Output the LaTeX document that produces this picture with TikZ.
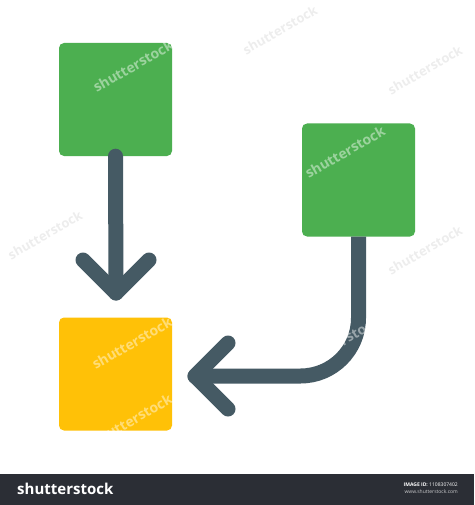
\documentclass[tikz,border=0pt]{standalone}
\usepackage{fontspec}
\setmainfont{Open Sans}
\begin{document}
\begin{tikzpicture}[x=1pt,y=-1pt]
\definecolor{boxgreen}{HTML}{4CAF50}
\definecolor{boxyellow}{HTML}{FFC107}
\definecolor{slate}{HTML}{455A64}
\definecolor{barbg}{HTML}{2B2E35}
\tikzset{
  block/.style={minimum width=113pt,minimum height=113pt,rounded corners=5pt,inner sep=0pt},
  flow/.style={draw=slate,line width=15pt,line cap=round,line join=round},
  wmark/.style={text=white,opacity=0.45,font=\bfseries\fontsize{14}{14}\selectfont,rotate=30},
  wfaint/.style={text=black,opacity=0.07,font=\bfseries\fontsize{13}{13}\selectfont,rotate=30}
}
\useasboundingbox (0,0) rectangle (474,505);
\fill[white] (0,0) rectangle (474,505);
% faint watermarks on white
\node[wfaint] (w1) at (280,30) {shutterstock};
\node[wfaint] (w2) at (425,70) {shutterstock};
\node[wfaint] (w3) at (45,235) {shutterstock};
\node[wfaint] (w4) at (425,250) {shutterstock};
% blocks
\node[block,fill=boxgreen] (top) at (115.5,99.5) {};
\node[block,fill=boxgreen] (right) at (358.5,180) {};
\node[block,fill=boxyellow] (bottom) at (115.5,374) {};
% connectors
\coordinate (dtip) at (116,293);
\coordinate (dl) at (83,260);
\coordinate (dr) at (149,260);
\draw[flow] (top.south) -- (dtip);
\draw[flow] (dl) -- (dtip) -- (dr);
\coordinate (ltip) at (195,376);
\coordinate (lu) at (228,343);
\coordinate (ld) at (228,409);
\draw[flow,line cap=butt,rounded corners=58pt] (right.south) |- (ltip);
\draw[flow] (210,376) -- (ltip);
\draw[flow] (lu) -- (ltip) -- (ld);
% watermarks on shapes
\node[wmark] (m1) at (133,66) {shutterstock};
\node[wmark] (m2) at (345,152) {shutterstock};
\node[wmark] (m3) at (132,343) {shutterstock};
\node[wmark] (m4) at (132,420) {shutterstock};
\node[wmark] (m5) at (340,342) {shutterstock};
% bottom bar
\fill[barbg] (0,474) rectangle (474,505);
\node[anchor=west,text=white,font=\bfseries\fontsize{15}{15}\selectfont,inner sep=0pt] (logo) at (17,489) {shutterstock};
\node[anchor=east,text=white,font=\fontsize{5}{5}\selectfont,inner sep=0pt] (imgid) at (458,484.5) {\textbf{IMAGE ID:} 1108307402};
\node[anchor=east,text=white!75!barbg,font=\fontsize{5}{5}\selectfont,inner sep=0pt] (site) at (458,492) {www.shutterstock.com};
\end{tikzpicture}
\end{document}
